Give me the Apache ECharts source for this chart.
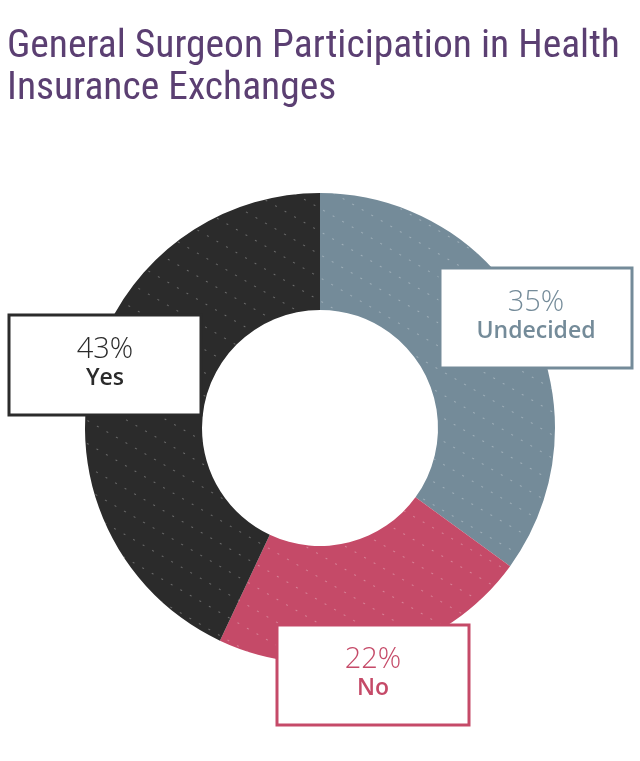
<!DOCTYPE html>
<html>
<head>
<meta charset="utf-8">
<script src="https://cdn.jsdelivr.net/npm/echarts@6/dist/echarts.min.js"></script>
<style>
  html, body { margin: 0; padding: 0; background: #fff; }
  #chart { width: 640px; height: 761px; }
</style>
</head>
<body>
<div id="chart"></div>
<script>
// data
var categories = ['Undecided', 'No', 'Yes']
var shares = [35, 22, 43]
var colors = ['#748b99', '#c54a68', '#2b2b2b']
// where each label box sits (centre, px)
var boxPos = [[536, 318], [373, 675], [105, 365]]

var chart = echarts.init(document.getElementById('chart'))

function pieData() {
  var out = []
  categories.forEach(function (name, i) {
    out.push({
      name: name,
      value: shares[i],
      itemStyle: {
        color: colors[i],
        decal: {
          symbol: 'rect',
          symbolSize: 1,
          color: 'rgba(255,255,255,0.3)',
          dashArrayX: [[2, 9]],
          dashArrayY: [1, 19],
          rotation: Math.PI / 6
        }
      },
      label: {
        borderColor: colors[i],
        rich: {
          p: { color: colors[i] },
          n: { color: colors[i] }
        }
      }
    })
  })
  return out
}

chart.setOption({
  animation: false,
  title: {
    text: 'General Surgeon Participation in Health\nInsurance Exchanges',
    left: 2,
    top: 21,
    textStyle: {
      color: '#5b3f72',
      fontFamily: 'Roboto Condensed, Liberation Sans Narrow, DejaVu Sans Condensed, sans-serif',
      fontWeight: 'normal',
      fontSize: 39.5,
      lineHeight: 42
    }
  },
  series: [{
    type: 'pie',
    center: [320, 428],
    radius: [118, 235],
    startAngle: 90,
    clockwise: true,
    silent: true,
    labelLine: { show: false },
    label: {
      show: true,
      position: 'outside',
      formatter: function (p) {
        return '{p|' + p.value + '%}\n{n|' + p.name + '}'
      },
      backgroundColor: '#fff',
      borderWidth: 3,
      width: 189,
      padding: [16, 0, 23, 0],
      align: 'center',
      rich: {
        p: { fontFamily: 'Open Sans, sans-serif', fontSize: 29, fontWeight: 300, lineHeight: 34, align: 'center' },
        n: { fontFamily: 'Open Sans, sans-serif', fontSize: 23, fontWeight: 600, lineHeight: 24, align: 'center' }
      }
    },
    labelLayout: function (params) {
      var pos = boxPos[params.dataIndex]
      return { x: pos[0], y: pos[1], align: 'center', verticalAlign: 'middle' }
    },
    data: pieData()
  }]
})
</script>
</body>
</html>
